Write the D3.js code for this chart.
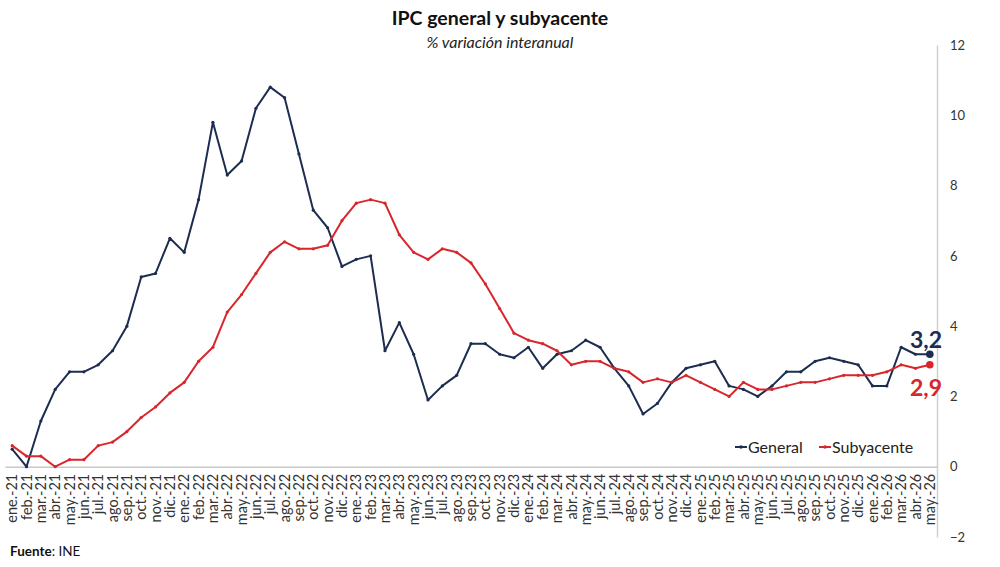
<!DOCTYPE html>
<html><head><meta charset="utf-8">
<script src="https://cdn.jsdelivr.net/npm/d3@7"></script>
<style>body{margin:0;background:#fff}svg{display:block;font-family:Lato,"Open Sans",sans-serif}</style>
</head><body><svg id="c" width="1000" height="567"></svg>
<script>
const months = ["ene.","feb.","mar.","abr.","may.","jun.","jul.","ago.","sep.","oct.","nov.","dic."];
const categories = [];
for (let y = 21; y <= 26; y++) for (let m = 0; m < 12; m++) { if (y === 26 && m > 4) break; categories.push(months[m] + "-" + y); }
const general = [0.5,0.0,1.3,2.2,2.7,2.7,2.9,3.3,4.0,5.4,5.5,6.5,
 6.1,7.6,9.8,8.3,8.7,10.2,10.8,10.5,8.9,7.3,6.8,5.7,
 5.9,6.0,3.3,4.1,3.2,1.9,2.3,2.6,3.5,3.5,3.2,3.1,
 3.4,2.8,3.2,3.3,3.6,3.4,2.8,2.3,1.5,1.8,2.4,2.8,
 2.9,3.0,2.3,2.2,2.0,2.3,2.7,2.7,3.0,3.1,3.0,2.9,
 2.3,2.3,3.4,3.2,3.2];
const subyacente = [0.6,0.3,0.3,0.0,0.2,0.2,0.6,0.7,1.0,1.4,1.7,2.1,
 2.4,3.0,3.4,4.4,4.9,5.5,6.1,6.4,6.2,6.2,6.3,7.0,
 7.5,7.6,7.5,6.6,6.1,5.9,6.2,6.1,5.8,5.2,4.5,3.8,
 3.6,3.5,3.3,2.9,3.0,3.0,2.8,2.7,2.4,2.5,2.4,2.6,
 2.4,2.2,2.0,2.4,2.2,2.2,2.3,2.4,2.4,2.5,2.6,2.6,
 2.6,2.7,2.9,2.8,2.9];
const yTicks = [-2,0,2,4,6,8,10,12];
const seriesNames = ["General","Subyacente"];
const colors = ["#1c2d50","#d8262d"];
const endLabels = ["3,2","2,9"];

const svg = d3.select("#c");
const x = d3.scalePoint().domain(categories).range([5,937]).padding(0.5);
const y = d3.scaleLinear().domain([-2,12]).range([537,45]);

// title
svg.append("text").attr("x",500).attr("y",25).attr("text-anchor","middle")
  .attr("font-size",19.5).attr("font-weight","bold").attr("fill","#111").text("IPC general y subyacente");
svg.append("text").attr("x",500).attr("y",48).attr("text-anchor","middle")
  .attr("font-size",16).attr("font-style","italic").attr("fill","#222").text("% variación interanual");

// y axis (right)
const ya = svg.append("g").attr("transform","translate(937,0)")
  .call(d3.axisRight(y).tickValues(yTicks).tickSize(0).tickPadding(13).tickFormat(d3.format("d")));
ya.select(".domain").attr("stroke","#d0d0d0").attr("stroke-width",1.5);
ya.selectAll("text").attr("font-size",13).attr("fill","#333").attr("font-family","Lato,sans-serif");

// x axis at 0
const xa = svg.append("g").attr("transform",`translate(0,${y(0)})`)
  .call(d3.axisBottom(x).tickSize(0).tickPadding(6));
xa.select(".domain").attr("stroke","#c8c8c8").attr("stroke-width",1.5);
xa.selectAll("text").attr("font-size",14.5).attr("fill","#333").attr("font-family","Lato,sans-serif")
  .attr("text-anchor","end").attr("dy","0.32em").attr("transform","rotate(-90)")
  .attr("x",-7).attr("y",0);

const data = [general, subyacente];
const line = d3.line().x((d,i)=>x(categories[i])).y(d=>y(d));
data.forEach((s,k)=>{
  svg.append("path").datum(s).attr("d",line).attr("fill","none")
    .attr("stroke",colors[k]).attr("stroke-width",2).attr("stroke-linejoin","round");
  svg.append("g").selectAll("circle").data(s).join("circle")
    .attr("cx",(d,i)=>x(categories[i])).attr("cy",d=>y(d))
    .attr("r",(d,i)=> i===s.length-1 ? 3.8 : 1.6).attr("fill",colors[k]);
});

// end labels
svg.append("text").attr("x",926).attr("y",y(general[general.length-1])-6).attr("text-anchor","middle")
  .attr("font-size",23).attr("font-weight","bold").attr("fill",colors[0]).text(endLabels[0]);
svg.append("text").attr("x",926).attr("y",y(subyacente[subyacente.length-1])+31).attr("text-anchor","middle")
  .attr("font-size",23).attr("font-weight","bold").attr("fill",colors[1]).text(endLabels[1]);

// legend
const lg = svg.append("g").attr("transform","translate(735,447)");
const lx = [0, 84];
seriesNames.forEach((n,k)=>{
  const g = lg.append("g").attr("transform",`translate(${lx[k]},0)`);
  g.append("line").attr("x1",0).attr("x2",12).attr("y1",0).attr("y2",0).attr("stroke",colors[k]).attr("stroke-width",2);
  g.append("circle").attr("cx",6).attr("cy",0).attr("r",1.8).attr("fill",colors[k]);
  g.append("text").attr("x",13).attr("y",0).attr("dy","0.35em").attr("font-size",16).attr("fill","#222").text(n);
});

// source
const src = svg.append("text").attr("x",10).attr("y",556).attr("font-size",13.5).attr("fill","#111");
src.append("tspan").attr("font-weight","bold").text("Fuente");
src.append("tspan").text(": INE");
</script></body></html>
